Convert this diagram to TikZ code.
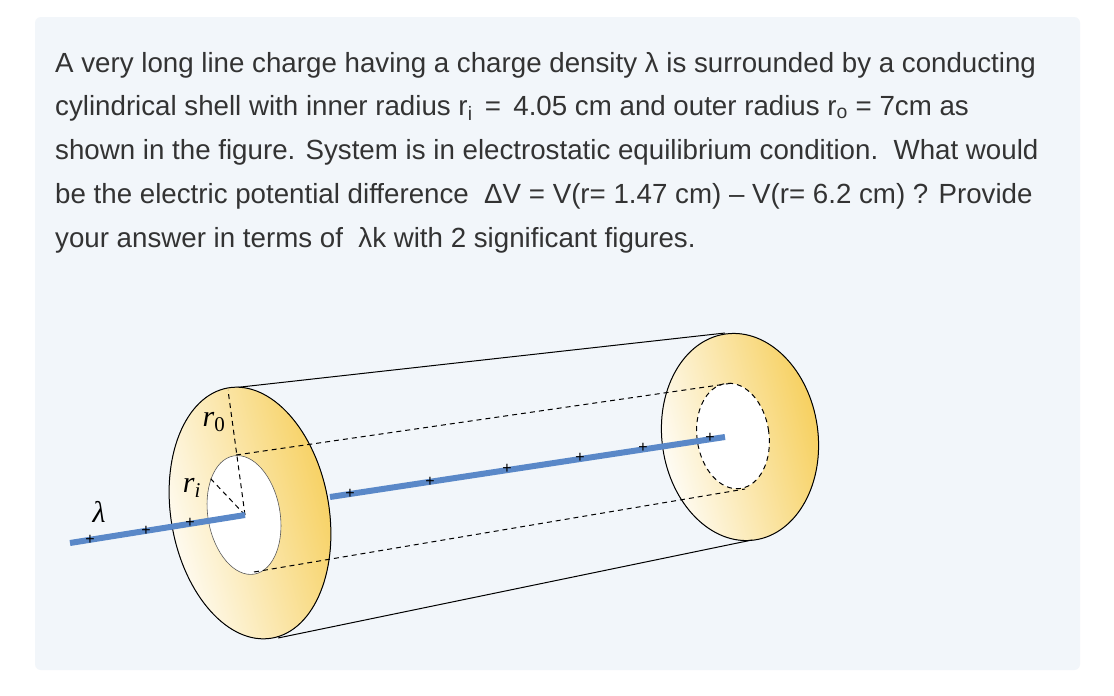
\documentclass[tikz,border=0pt]{standalone}
\usepackage{fontspec}
\setmainfont{Liberation Sans}
\newfontfamily\labf{Liberation Serif}
\definecolor{card}{HTML}{F2F6FA}
\definecolor{txt}{HTML}{333333}
\definecolor{gold}{HTML}{F6CD55}
\definecolor{rod}{HTML}{5A88C8}
\tikzset{
 line/.style={font=\fontsize{27.7}{30}\selectfont, text=txt, anchor=base west, inner sep=0pt},
 ring/.style={shading=axis, left color=white, middle color=gold!70!white, right color=gold, shading angle=105},
 hid/.style={line width=1pt, dash pattern=on 5pt off 4pt},
 rodst/.style={line width=6pt, draw=rod},
 plus/.style={font=\fontsize{16}{16}\selectfont, inner sep=0pt},
 lab/.style={inner sep=0pt, font=\labf\itshape\fontsize{30}{30}\selectfont}
}
\begin{document}
\begin{tikzpicture}[x=1pt,y=1pt]
\useasboundingbox (0,0) rectangle (1114,-696);
\fill[white] (0,0) rectangle (1114,-696);
\fill[card, rounded corners=6pt] (35,-17) rectangle (1080,-670);
\node[line] (l1) at (55,-72) {A very long line charge having a charge density λ is surrounded by a conducting};
\node[line] (l2) at (55,-115) {cylindrical shell with inner radius r\textsubscript{i} \,=\, 4.05 cm and outer radius r\textsubscript{o} = 7cm as};
\node[line] (l3) at (55,-159) {shown in the figure. System is in electrostatic equilibrium condition.\ \ What would};
\node[line] (l4) at (55,-203) {be the electric potential difference\ \ ΔV = V(r= 1.47 cm) – V(r= 6.2 cm) ? Provide};
\node[line] (l5) at (55,-247) {your answer in terms of\ \ λk with 2 significant figures.};
% back ring
\fill[ring, rotate around={8:(740,-437)}] (740,-437) ellipse [x radius=78, y radius=104];
\draw[line width=1pt, rotate around={8:(740,-437)}] (740,-437) ellipse [x radius=78, y radius=104];
\fill[white, rotate around={8:(733,-436)}] (733,-436) ellipse [x radius=36, y radius=53];
\draw[hid, rotate around={8:(733,-436)}] (733,-436) ellipse [x radius=36, y radius=53];
% outer lines
\draw[line width=1pt] (232,-388) -- (725,-333);
\draw[line width=1pt] (278,-638) -- (752,-540);
% rod middle
\draw[rodst] (330,-497) -- (725,-437);
\foreach \p in {(350,-494),(430,-482),(507,-469),(580,-458),(643,-448),(710,-438)} \node[plus] at \p {+};
% front ring
\fill[ring, rotate around={10:(250,-513)}] (250,-513) ellipse [x radius=79, y radius=127];
\draw[line width=1pt, rotate around={10:(250,-513)}] (250,-513) ellipse [x radius=79, y radius=127];
\fill[white, rotate around={10:(244,-515)}] (244,-515) ellipse [x radius=36, y radius=60];
\draw[gray!70!black, line width=0.6pt, rotate around={10:(244,-515)}] (244,-515) ellipse [x radius=36, y radius=60];
% hidden lines
\draw[hid] (236,-455) -- (733,-383);
\draw[hid] (254,-572) -- (745,-489);
\draw[hid] (245,-515) -- (228,-390);
\draw[hid] (245,-515) -- (210,-478);
% rod front
\draw[rodst] (70,-543) -- (245,-515);
\foreach \p in {(90,-540),(146,-531),(190,-523)} \node[plus] at \p {+};
\node[lab] (ro) at (214,-422) {r\textsubscript{\upshape 0}};
\node[lab] (ri) at (192,-488) {r\textsubscript{i}};
\node[lab] (lam) at (99,-512) {λ};
\end{tikzpicture}
\end{document}
